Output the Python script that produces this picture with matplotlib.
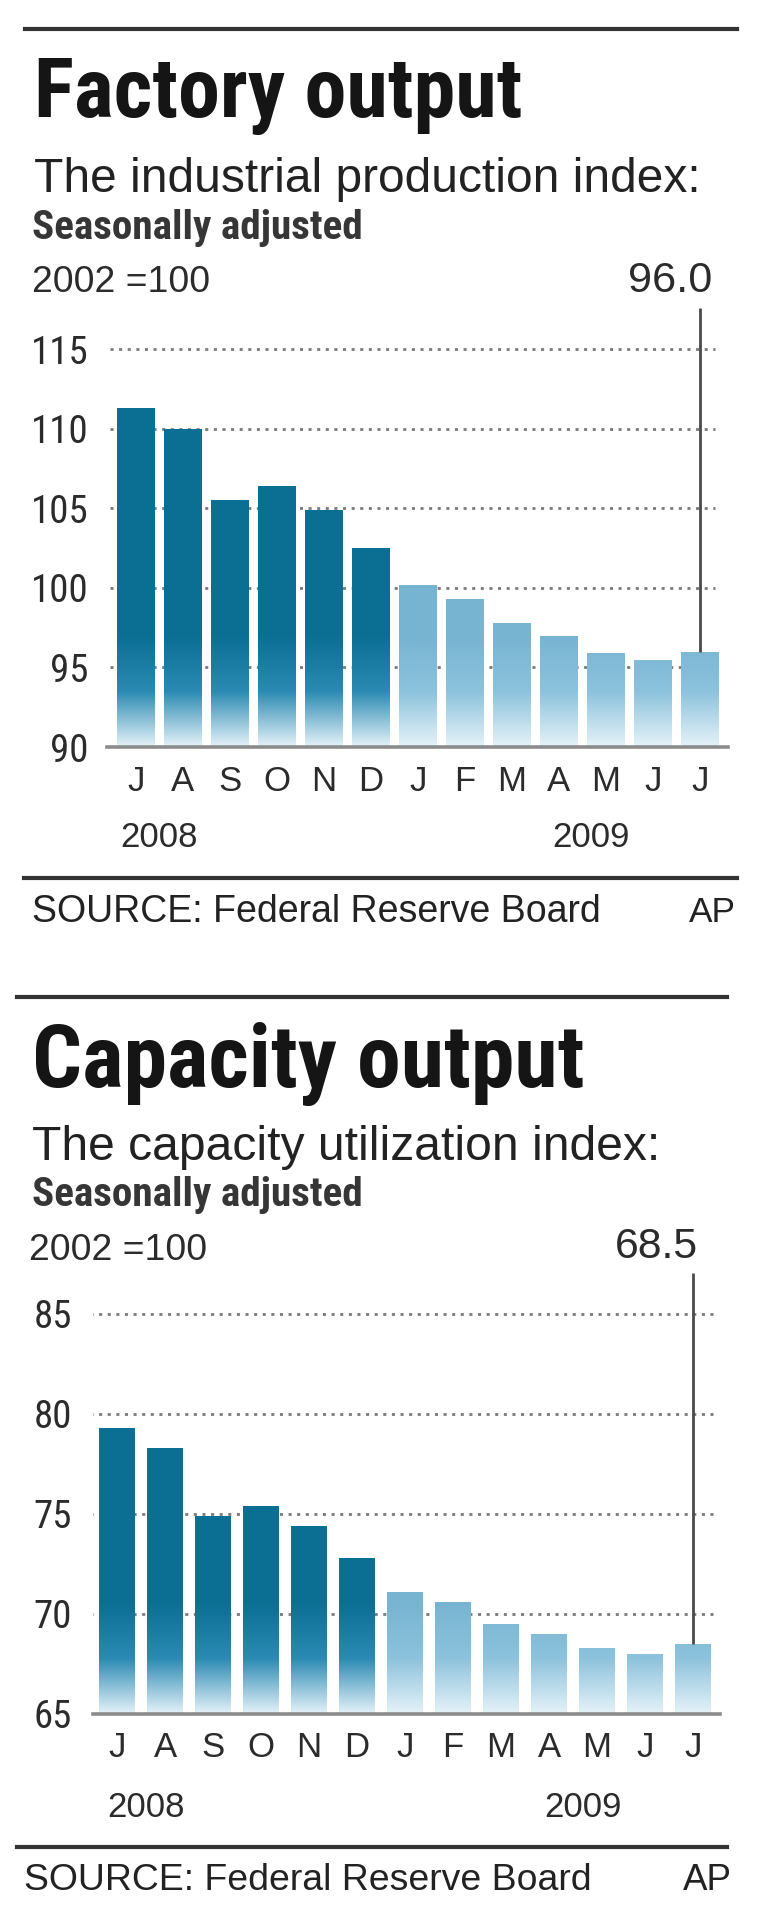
import matplotlib
matplotlib.use("Agg")
import matplotlib.pyplot as plt
import numpy as np
from matplotlib import transforms
from matplotlib.lines import Line2D
from matplotlib.colors import LinearSegmentedColormap

plt.rcParams['font.family'] = ['Liberation Sans', 'DejaVu Sans']
NARROW = ['Roboto Condensed', 'Archivo Narrow', 'Liberation Sans Narrow', 'Liberation Sans', 'DejaVu Sans']

# Data
months = ["J", "A", "S", "O", "N", "D", "J", "F", "M", "A", "M", "J", "J"]
years = ["2008", "2009"]
factory = [111.3, 110.0, 105.5, 106.4, 104.9, 102.5, 100.2, 99.3, 97.8, 97.0, 95.9, 95.5, 96.0]
capacity = [79.3, 78.3, 74.9, 75.4, 74.4, 72.8, 71.1, 70.6, 69.5, 69.0, 68.3, 68.0, 68.5]
n_2008 = 6
factory_ticks = [90, 95, 100, 105, 110, 115]
capacity_ticks = [65, 70, 75, 80, 85]

DARK, DARK_MID = '#0b6e93', '#2a8ab3'
LIGHT, LIGHT_MID = '#77b4d2', '#8cc2dc'
PALE = '#e6f3f9'

W, H = 760, 1917
fig = plt.figure(figsize=(W / 100, H / 100), dpi=100)
renderer = fig.canvas.get_renderer()


def fx(px):
    return px / W


def fy(py):
    return 1 - py / H


def text(x, y, s, width=None, ha='left', **kw):
    t = fig.text(fx(x), fy(y), s, ha=ha, va='baseline', **kw)
    if width:
        w = t.get_window_extent(renderer).width
        t.set_fontsize(t.get_fontsize() * width / w)
    return t


def rule(x0, x1, y):
    fig.add_artist(Line2D([fx(x0), fx(x1)], [fy(y), fy(y)], lw=3, color='#333333'))


def shade(ax, bars, bottom, zone_top):
    for i, b in enumerate(bars):
        top, mid = (DARK, DARK_MID) if i < n_2008 else (LIGHT, LIGHT_MID)
        cmap = LinearSegmentedColormap.from_list('g', [(0, top), (0.5, mid), (1, PALE)])
        grad = np.linspace(0, 1, 256)[:, None]
        im = ax.imshow(grad, cmap=cmap, aspect='auto', interpolation='bilinear',
                       extent=[b.get_x(), b.get_x() + b.get_width(), bottom, zone_top],
                       zorder=b.get_zorder() + 0.1)
        im.set_clip_path(b)


def panel(box, values, ticks, ylim, xlim, width, zone_top, grid_x, ypad, xpad):
    l, r, b, t = box
    ax = fig.add_axes([fx(l), fy(b), fx(r) - fx(l), fy(t) - fy(b)])
    colors = [DARK] * n_2008 + [LIGHT] * (len(values) - n_2008)
    x = np.arange(len(values))
    bars = ax.bar(x, np.array(values) - ylim[0], bottom=ylim[0], width=width,
                  color=colors, zorder=2)
    shade(ax, bars, ylim[0], zone_top)
    ax.hlines(ticks[1:], grid_x[0], grid_x[1], colors='#7a7a7a', lw=2.0,
              linestyles=(0, (1.1, 2.0)), zorder=1)
    ax.vlines(x[-1], values[-1], ylim[1], colors='#4a4a4a', lw=2.0, zorder=3)
    ax.set_xlim(*xlim)
    ax.set_ylim(*ylim)
    ax.set_yticks(ticks)
    ax.set_yticklabels([str(v) for v in ticks], fontsize=28, color='#2b2b2b', family=NARROW)
    ax.set_xticks(x)
    ax.set_xticklabels(months, fontsize=25, color='#2b2b2b')
    ax.tick_params(axis='y', length=0, pad=ypad)
    ax.tick_params(axis='x', length=0, pad=xpad)
    for s in ['top', 'right', 'left']:
        ax.spines[s].set_visible(False)
    ax.spines['bottom'].set_color('#8c8c8c')
    ax.spines['bottom'].set_linewidth(2.6)
    ax.spines['bottom'].set_zorder(4)
    ax.patch.set_alpha(0)
    return ax


def year_labels(ax, y, xs):
    tr = transforms.blended_transform_factory(ax.transData, fig.transFigure)
    for yr, xp in zip(years, xs):
        ax.text(xp, fy(y), yr, transform=tr, ha='center', va='baseline',
                fontsize=25, color='#2b2b2b')


# ---- Factory output ----
rule(25, 737, 29)
text(34, 117, "Factory output", width=488, fontsize=50, fontweight='bold', family=NARROW, color='#151515')
text(34, 192, "The industrial production index:", width=664, fontsize=30, color='#222222')
text(32, 239, "Seasonally adjusted", width=330, fontsize=20, fontweight='bold', family=NARROW, color='#363636')
text(32, 292, "2002 =100", width=178, fontsize=20, color='#2b2b2b')
text(712, 292, f"{factory[-1]:.1f}", width=84, fontsize=25, ha='right', color='#2b2b2b')

ax1 = panel((107, 728, 747, 308), factory, factory_ticks, (90, 117.6), (-0.617, 12.596),
            0.79, 97.0, (-0.553, 12.32), 13.5, 13)
year_labels(ax1, 847, [0.5, 9.68])

rule(24, 737, 878)
text(32, 922, "SOURCE: Federal Reserve Board", width=568, fontsize=20, color='#222222')
text(736, 922, "AP", width=47, fontsize=24, ha='right', color='#222222')

# ---- Capacity output ----
rule(17, 727, 997)
text(32, 1087, "Capacity output", width=553, fontsize=50, fontweight='bold', family=NARROW, color='#151515')
text(32, 1160, "The capacity utilization index:", width=625, fontsize=30, color='#222222')
text(32, 1206, "Seasonally adjusted", width=330, fontsize=20, fontweight='bold', family=NARROW, color='#363636')
text(29, 1260, "2002 =100", width=178, fontsize=20, color='#2b2b2b')
text(698, 1258, f"{capacity[-1]:.1f}", width=83, fontsize=25, ha='right', color='#2b2b2b')

ax2 = panel((93, 720, 1714, 1273), capacity, capacity_ticks, (65, 87.05), (-0.5, 12.5625),
            0.75, 70.6, (-0.56, 12.42), 15, 12)
year_labels(ax2, 1817, [0.6, 9.7])

rule(17, 727, 1847)
text(24, 1890, "SOURCE: Federal Reserve Board", width=566, fontsize=20, color='#222222')
text(732, 1890, "AP", width=49, fontsize=24, ha='right', color='#222222')

plt.savefig("out.png", dpi=100)
